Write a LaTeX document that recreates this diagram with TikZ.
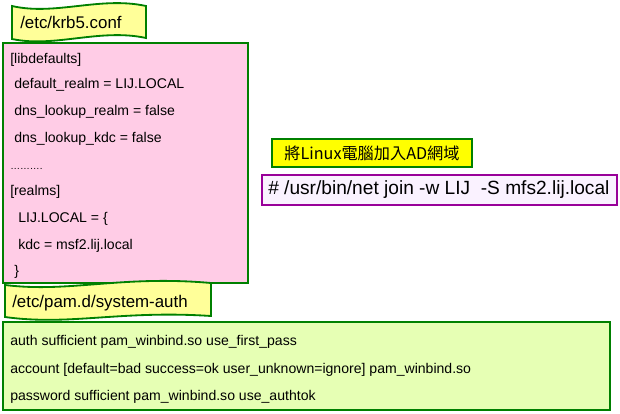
\documentclass[tikz,border=0pt]{standalone}
\usepackage{fontspec}
\setmainfont{Liberation Sans}
\newfontfamily\cjkfont{Noto Sans CJK TC}
\usepackage{xcolor}
\usepackage{tikz}
\definecolor{krbpink}{RGB}{255,204,230}
\definecolor{bannergold}{RGB}{255,255,153}
\definecolor{framegreen}{RGB}{0,128,0}
\definecolor{pamlime}{RGB}{230,255,180}
\definecolor{titleyellow}{RGB}{255,255,0}
\definecolor{cmdpurple}{RGB}{153,0,153}
\definecolor{cmdlavender}{RGB}{250,242,255}
\tikzset{
  greenframe/.style={draw=framegreen,line width=1.3pt},
  banner/.style={greenframe,fill=bannergold},
  confline/.style={anchor=base west,inner sep=0pt,font=\fontsize{10}{12}\selectfont},
  tagline/.style={anchor=base west,inner sep=0pt,font=\fontsize{12}{14}\selectfont}
}

\begin{document}
\begin{tikzpicture}[x=0.025cm,y=-0.025cm]
\useasboundingbox (0,0) rectangle (620,414);
% Banner for krb5.conf
\draw[banner] (12,6) .. controls (55,16) and (100,-4) .. (146,6) -- (146,38)
  .. controls (100,28) and (55,48) .. (12,39) -- cycle;
\node[tagline] (krbtag) at (20,28) {/etc/krb5.conf};
% Pink box with krb5.conf contents
\draw[greenframe,fill=krbpink] (3,43) rectangle (248,283);
\node[confline] (lib) at (10,63) {[libdefaults]};
\node[confline] (realm) at (14,89) {default\_realm = LIJ.LOCAL};
\node[confline] (dnsrealm) at (14,115) {dns\_lookup\_realm = false};
\node[confline] (dnskdc) at (14,142) {dns\_lookup\_kdc = false};
\node[confline,font=\fontsize{7}{8}\selectfont] (dots) at (10,169) {……….};
\node[confline] (realms) at (10,195) {[realms]};
\node[confline] (lijlocal) at (18,222) {LIJ.LOCAL = \{};
\node[confline] (kdc) at (18,249) {kdc = msf2.lij.local};
\node[confline] (close) at (14,275) {\}};
% Banner for system-auth
\draw[banner] (5,285) .. controls (70,293) and (120,275) .. (211,283) -- (211,316)
  .. controls (120,310) and (70,326) .. (5,317) -- cycle;
\node[tagline] (pamtag) at (12,307) {/etc/pam.d/system-auth};
% Green box with pam lines
\draw[greenframe,fill=pamlime] (3,322) rectangle (610,410);
\node[confline] (auth) at (10,345) {auth sufficient pam\_winbind.so use\_first\_pass};
\node[confline] (account) at (10,373) {account [default=bad success=ok user\_unknown=ignore] pam\_winbind.so};
\node[confline] (password) at (10,400) {password sufficient pam\_winbind.so use\_authtok};
% Title and command
\draw[greenframe,fill=titleyellow] (272,139) rectangle (472,167);
\node[font=\cjkfont\fontsize{11.5}{14}\selectfont] (jointitle) at (372,153) {將Linux電腦加入AD網域};
\draw[draw=cmdpurple,line width=1.3pt,fill=cmdlavender] (262,175) rectangle (617,205);
\node[anchor=west,inner sep=0pt,font=\fontsize{13.6}{16}\selectfont] (joincmd) at (268,190) {\# /usr/bin/net join -w LIJ\ \ -S mfs2.lij.local};
\end{tikzpicture}
\end{document}
